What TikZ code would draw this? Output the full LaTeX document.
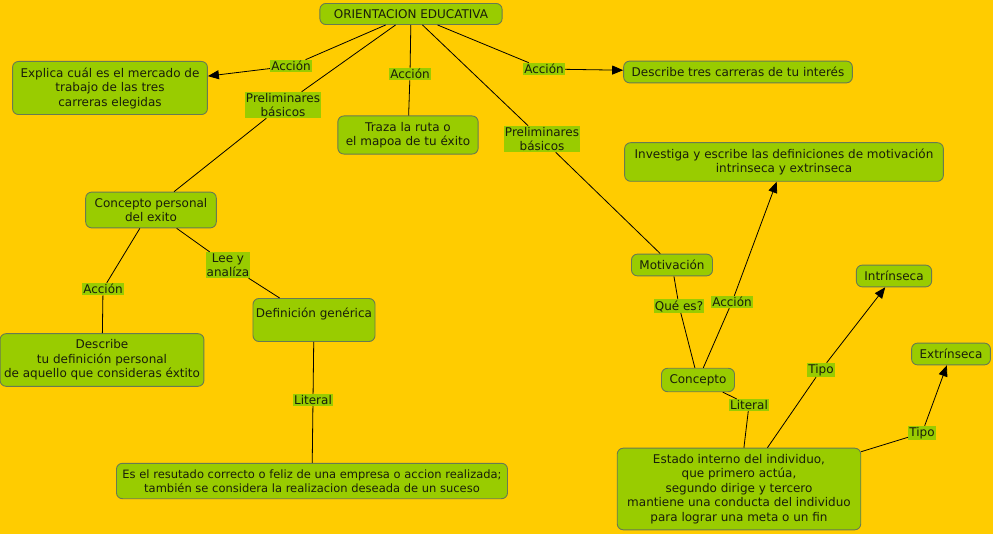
\documentclass[tikz,border=0pt]{standalone}
\usepackage{fontspec}
\setmainfont{DejaVu Sans}
\usetikzlibrary{arrows.meta,positioning}
\definecolor{bgcolor}{RGB}{255,204,0}
\definecolor{boxcolor}{RGB}{153,204,0}
\definecolor{edgecolor}{RGB}{104,122,82}
\definecolor{inkcolor}{RGB}{25,30,10}

\tikzset{
  concept/.style={draw=edgecolor,fill=boxcolor,rounded corners=6pt,align=center,
    inner xsep=8pt,inner ysep=6pt,line width=0.9pt,text=inkcolor},
  linkword/.style={fill=boxcolor,align=center,inner sep=1pt,text=inkcolor},
  arr/.style={-{Triangle[length=11pt,width=9pt]}}
}

\begin{document}
\begin{tikzpicture}[x=1pt,y=-1pt,font=\fontsize{12}{14.5}\selectfont,line width=0.8pt]
\fill[bgcolor] (0,0) rectangle (993,534);
\useasboundingbox (0,0) rectangle (993,534);
% concepts
\node[concept,inner xsep=14pt] (orient) at (411,14) {ORIENTACION EDUCATIVA};
\node[concept] (explica) at (110,88) {Explica cuál es el mercado de\\trabajo de las tres\\carreras elegidas};
\node[concept] (traza) at (408,135) {Traza la ruta o\\el mapoa de tu éxito};
\node[concept] (carreras) at (738,72) {Describe tres carreras de tu interés};
\node[concept,inner xsep=10pt] (investiga) at (784,162) {Investiga y escribe las definiciones de motivación\\intrinseca y extrinseca};
\node[concept,inner xsep=9pt] (personal) at (151,210) {Concepto personal\\del exito};
\node[concept,inner xsep=4pt] (describe) at (102,360) {Describe\\tu definición personal\\de aquello que consideras éxtito};
\node[concept,inner xsep=3pt,minimum height=43pt] (generica) at (314,320) {Definición genérica\\\mbox{}};
\node[concept,inner xsep=6pt,font=\fontsize{11.5}{14.5}\selectfont] (resultado) at (312,481) {Es el resutado correcto o feliz de una empresa o accion realizada;\\también se considera la realizacion deseada de un suceso};
\node[concept] (motivacion) at (672,265) {Motivación};
\node[concept] (intrinseca) at (894,276) {Intrínseca};
\node[concept] (extrinseca) at (951,354) {Extrínseca};
\node[concept] (concepto) at (698,380) {Concepto};
\node[concept,inner xsep=10pt] (estado) at (739,489) {Estado interno del individuo,\\que primero actúa,\\segundo dirige y tercero\\mantiene una conducta del individuo\\para lograr una meta o un fin};
% linking words
\node[linkword] (acc1) at (291,66) {Acción};
\node[linkword] (pre1) at (283,105) {Preliminares\\básicos};
\node[linkword] (acc2) at (410,74) {Acción};
\node[linkword] (acc3) at (544,69) {Acción};
\node[linkword] (pre2) at (542,139) {Preliminares\\básicos};
\node[linkword] (lee) at (228,265) {Lee y\\analíza};
\node[linkword] (acc4) at (103,289) {Acción};
\node[linkword] (lit1) at (313,400) {Literal};
\node[linkword] (quees) at (679,306) {Qué es?};
\node[linkword] (acc5) at (732,302) {Acción};
\node[linkword] (lit2) at (749,405) {Literal};
\node[linkword] (tipo1) at (821,370) {Tipo};
\node[linkword] (tipo2) at (922,433) {Tipo};
% connectors
\draw (orient) -- (acc1);
\draw[arr] (acc1) -- (explica);
\draw (orient) -- (pre1) -- (personal);
\draw (orient) -- (acc2) -- (traza);
\draw (orient) -- (acc3);
\draw[arr] (acc3) -- (carreras);
\draw (orient) -- (pre2) -- (motivacion);
\draw (personal) -- (lee) -- (generica);
\draw (personal) -- (acc4) -- (describe);
\draw (generica) -- (lit1) -- (resultado);
\draw (motivacion) -- (quees) -- (concepto);
\draw (concepto) -- (acc5);
\draw[arr] (acc5) -- (investiga);
\draw (concepto) -- (lit2) -- (estado);
\draw (estado) -- (tipo1);
\draw[arr] (tipo1) -- (intrinseca);
\draw (estado) -- (tipo2);
\draw[arr] (tipo2) -- (extrinseca);
\end{tikzpicture}
\end{document}
